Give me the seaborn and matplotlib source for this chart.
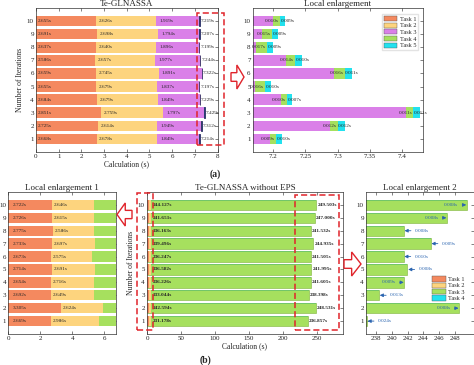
import numpy as np
import matplotlib
matplotlib.use("Agg")
import matplotlib.pyplot as plt
import seaborn as sns
from matplotlib.patches import Rectangle, Polygon, Patch

sns.set_theme(style="ticks")
plt.rcParams["font.family"] = ["Liberation Serif", "DejaVu Serif"]

# ---- data ----
iters = np.arange(1, 11)

# (a) Te-GLNASSA, seconds per task
a_task1 = [2.668, 2.725, 2.851, 2.684, 2.655, 2.659, 2.586, 2.637, 2.691, 2.655]
a_task2 = [2.678, 2.614, 2.759, 2.679, 2.679, 2.745, 2.657, 2.640, 2.698, 2.626]
a_task3 = [1.849, 1.949, 1.797, 1.849, 1.837, 1.891, 1.977, 1.896, 1.794, 1.919]
a_task4 = [0.009, 0.012, 0.011, 0.010, 0.016, 0.016, 0.014, 0.017, 0.015, 0.010]
a_task5 = [0.010, 0.012, 0.011, 0.007, 0.010, 0.011, 0.010, 0.009, 0.009, 0.009]

# (b) Te-GLNASSA without EPS
b_task1 = [2.669, 3.305, 2.692, 2.654, 2.714, 2.673, 2.733, 2.775, 2.726, 2.722]
b_task2 = [2.986, 2.624, 2.649, 2.716, 2.691, 2.575, 2.697, 2.586, 2.615, 2.646]
b_task3 = [231.178, 242.594, 233.044, 236.226, 236.582, 236.247, 239.496, 236.163, 241.651, 244.127]
b_task4 = [0.024, 0.008, 0.013, 0.009, 0.008, 0.010, 0.009, 0.008, 0.008, 0.008]

task_names = ["Task 1", "Task 2", "Task 3", "Task 4", "Task 5"]
c_orange = "#F4895F"
c_yellow = "#FDD47E"
c_violet = "#DA80E8"
c_green = "#A6E05E"
c_cyan = "#22E1EE"
red = "#E0242B"
blue = "#2A64B0"

W, H = 474, 365
fig = plt.figure(figsize=(W / 100, H / 100), dpi=100)


def box(x0, y0, x1, y1):
    return [x0 / W, 1 - y1 / H, (x1 - x0) / W, (y1 - y0) / H]


def fx(x):
    return x / W


def fy(y):
    return 1 - y / H


def stack_bars(ax, parts, colors, edge="none", lw=0):
    cum = np.cumsum(np.array(parts), axis=0)
    for k in reversed(range(len(parts))):
        sns.barplot(x=cum[k], y=iters, orient="y", native_scale=True, width=0.8,
                    color=colors[k], saturation=1, errorbar=None,
                    edgecolor=edge if k == len(parts) - 2 or edge == "none" else "none",
                    linewidth=lw, ax=ax)
    return cum


def style(ax, xlim, xticks, xticklabels=None):
    ax.set_xlim(*xlim)
    ax.set_ylim(0, 11)
    ax.set_xticks(xticks)
    if xticklabels is not None:
        ax.set_xticklabels(xticklabels)
    ax.set_yticks(iters)
    ax.set_yticklabels([str(i) for i in iters])
    ax.set_xlabel("")
    ax.set_ylabel("")
    ax.tick_params(direction="in", top=True, right=True, length=2, width=0.4,
                   labelsize=5, pad=1.5, colors="#222222")
    for s in ax.spines.values():
        s.set_linewidth(0.5)
        s.set_color("#333333")


lab_fs = 3.8
title_fs = 6.5

# ---- (a) main ----
ax1 = fig.add_axes(box(36, 8, 217.5, 152))
cum_a = stack_bars(ax1, [a_task1, a_task2, a_task3, a_task4, a_task5],
                   [c_orange, c_yellow, c_violet, c_green, c_cyan])
ax1.barh(iters, np.array(a_task4) + np.array(a_task5), left=cum_a[2], height=0.8,
         color=c_cyan, edgecolor="#2b1f5c", linewidth=0.6)
for i, y in enumerate(iters):
    ax1.text(0.08, y, f"{a_task1[i]:.3f}s", fontsize=lab_fs, va="center", ha="left")
    ax1.text(cum_a[0][i] + 0.12, y, f"{a_task2[i]:.3f}s", fontsize=lab_fs, va="center", ha="left")
    ax1.text(cum_a[1][i] + 0.15, y, f"{a_task3[i]:.3f}s", fontsize=lab_fs, va="center", ha="left")
    ax1.text(cum_a[4][i] + 0.04, y, f"{cum_a[4][i]:.3f}s", fontsize=lab_fs, va="center", ha="left")
style(ax1, (0, 8), range(0, 9))
ax1.set_title("Te-GLNASSA", fontsize=title_fs, pad=1.5)
ax1.set_xlabel("Calculation (s)", fontsize=5.5, labelpad=1)
ax1.set_ylabel("Number of Iterations", fontsize=5.5, labelpad=2)

# ---- (a) local enlargement ----
ax2 = fig.add_axes(box(252.7, 8, 423, 152))
stack_bars(ax2, [a_task1, a_task2, a_task3, a_task4, a_task5],
           [c_orange, c_yellow, c_violet, c_green, c_cyan])
for i, y in enumerate(iters):
    ax2.text(cum_a[3][i] - 0.002, y, f"{a_task4[i]:.3f}s", fontsize=lab_fs, va="center", ha="right")
    ax2.text(cum_a[3][i] + 0.001, y, f"{a_task5[i]:.3f}s", fontsize=lab_fs, va="center", ha="left",
             clip_on=False)
style(ax2, (7.168, 7.433), [7.2, 7.25, 7.3, 7.35, 7.4], ["7.2", "7.25", "7.3", "7.35", "7.4"])
ax2.set_title("Local enlargement", fontsize=title_fs, pad=1.5)
handles_a = [Patch(facecolor=c, edgecolor="#555555", linewidth=0.3, label=n)
             for c, n in zip([c_orange, c_yellow, c_violet, c_green, c_cyan], task_names)]
ax2.legend(handles=handles_a, loc="upper left", bbox_to_anchor=(0.74, 0.98), fontsize=4.5,
           frameon=True, edgecolor="#dddddd", fancybox=False, handlelength=2.2, handleheight=0.9,
           labelspacing=0.15, borderpad=0.3, handletextpad=0.4)

fig.text(fx(215), fy(174), "(a)", fontsize=7, fontweight="bold", ha="center", va="center")

# ---- (b) local enlargement 1 ----
ax3 = fig.add_axes(box(8.3, 192, 116, 334))
cum_b = stack_bars(ax3, [b_task1, b_task2, b_task3, b_task4],
                   [c_orange, c_yellow, c_green, c_cyan])
for i, y in enumerate(iters):
    ax3.text(0.3, y, f"{b_task1[i]:.3f}s", fontsize=lab_fs, va="center", ha="left")
    ax3.text(cum_b[0][i] + 0.1, y, f"{b_task2[i]:.3f}s", fontsize=lab_fs, va="center", ha="left")
style(ax3, (0, 6.73), [0, 2, 4, 6])
ax3.set_title("Local enlargement 1", fontsize=title_fs, pad=1.5)

# ---- (b) main ----
ax4 = fig.add_axes(box(147, 192, 343, 334))
stack_bars(ax4, [b_task1, b_task2, b_task3, b_task4],
           [c_orange, c_yellow, c_green, c_cyan], edge="#7FB23A", lw=0.4)
for i, y in enumerate(iters):
    ax4.text(8, y, f"{b_task3[i]:.3f}s", fontsize=lab_fs, va="center", ha="left", fontweight="bold")
    ax4.text(cum_b[3][i] + 2, y, f"{cum_b[3][i]:.3f}s", fontsize=lab_fs, va="center", ha="left",
             fontweight="bold")
style(ax4, (0, 289), [0, 50, 100, 150, 200, 250])
ax4.set_title("Te-GLNASSA without EPS", fontsize=title_fs, pad=1.5)
ax4.set_xlabel("Calculation (s)", fontsize=5.5, labelpad=1)
ax4.set_ylabel("Number of Iterations", fontsize=5.5, labelpad=2)

# ---- (b) local enlargement 2 ----
ax5 = fig.add_axes(box(366, 192, 474, 334))
stack_bars(ax5, [b_task1, b_task2, b_task3, b_task4],
           [c_orange, c_yellow, c_green, c_cyan], edge="#7FB23A", lw=0.4)
inside = [2, 4, 9, 10]
for i, y in enumerate(iters):
    end = cum_b[3][i]
    if y in inside:
        xt, ha = end - 1.1, "right"
    else:
        xt, ha = end + 1.4, "left"
    ax5.annotate(f"{b_task4[i]:.3f}s", xy=(end, y), xytext=(xt, y), fontsize=lab_fs,
                 color=blue, va="center", ha=ha,
                 arrowprops=dict(arrowstyle="-|>", color=blue, lw=0.6, mutation_scale=5,
                                 shrinkA=0.5, shrinkB=0.5))
style(ax5, (236.75, 250.4), [238, 240, 242, 244, 246, 248])
ax5.set_title("Local enlargement 2", fontsize=title_fs, pad=1.5)
handles_b = [Patch(facecolor=c, edgecolor="#555555", linewidth=0.3, label=n)
             for c, n in zip([c_orange, c_yellow, c_green, c_cyan], task_names[:4])]
ax5.legend(handles=handles_b, loc="lower left", bbox_to_anchor=(0.57, 0.2), fontsize=4.5,
           frameon=False, handlelength=2.2, handleheight=0.9, labelspacing=0.1,
           borderpad=0.2, handletextpad=0.4)

fig.text(fx(205), fy(360), "(b)", fontsize=7, fontweight="bold", ha="center", va="center")

# ---- red dashed boxes and arrows ----
for (x0, y0, x1, y1) in [(196.7, 12.7, 224, 145), (136.7, 193, 153.3, 330), (295, 195, 339, 330)]:
    fig.add_artist(Rectangle((fx(x0), fy(y1)), fx(x1) - fx(x0), fy(y0) - fy(y1),
                             transform=fig.transFigure, fill=False, edgecolor=red,
                             linestyle=(0, (4, 2)), linewidth=1.1, zorder=10))


def block_arrow(x0, x1, y0, y1, right=True):
    yc = (y0 + y1) / 2
    h = (y1 - y0)
    xm = x0 + 0.45 * (x1 - x0) if right else x1 - 0.45 * (x1 - x0)
    tail, tip = (x0, x1) if right else (x1, x0)
    pts = [(tail, yc - h * 0.18), (xm, yc - h * 0.18), (xm, y0), (tip, yc),
           (xm, y1), (xm, yc + h * 0.18), (tail, yc + h * 0.18)]
    fig.add_artist(Polygon([(fx(px), fy(py)) for px, py in pts], closed=True,
                           transform=fig.transFigure, facecolor="white",
                           edgecolor=red, linewidth=1.0, zorder=10))


block_arrow(231, 244, 65, 89, right=True)
block_arrow(117, 132, 203, 226, right=False)
block_arrow(344, 361, 252, 276, right=True)

fig.savefig("out.png", dpi=100)
